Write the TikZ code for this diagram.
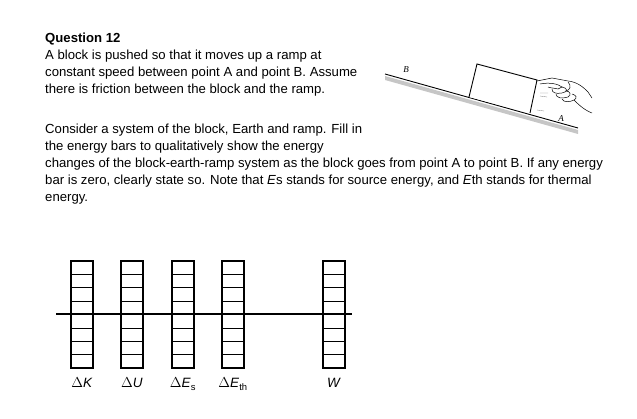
\documentclass[tikz,border=0pt]{standalone}
\usepackage{fontspec}
\setmainfont{Liberation Sans}
\newfontfamily\serifit{Liberation Serif}
\begin{document}
\begin{tikzpicture}[x=1pt,y=-1pt,
  txt/.style={anchor=base west,inner sep=0pt,font=\fontsize{13.15}{15}\selectfont},
  lab/.style={anchor=base,inner sep=0pt,font=\fontsize{13.5}{15}\selectfont},
  bar/.style={draw,line width=1.1pt}]
\useasboundingbox (0,0) rectangle (637,419);
\node[txt,font=\fontsize{13.15}{15}\selectfont\bfseries] (t0) at (45,43) {Question 12};
\node[txt] (t1) at (45,60) {A block is pushed so that it moves up a ramp at};
\node[txt] (t2) at (45,77) {constant speed between point A and point B. Assume};
\node[txt] (t3) at (45,94) {there is friction between the block and the ramp.};
\node[txt] (t4) at (45,134) {Consider a system of the block, Earth and ramp. Fill in};
\node[txt] (t5) at (45,151) {the energy bars to qualitatively show the energy};
\node[txt] (t6) at (45,168) {changes of the block-earth-ramp system as the block goes from point A to point B. If any energy};
\node[txt] (t7) at (45,185) {bar is zero, clearly state so. Note that \textit{E}s stands for source energy, and \textit{E}th stands for thermal};
\node[txt] (t8) at (45,202) {energy.};
% ramp
\fill[gray!45] (385,76) -- (578,130) -- (578,134) -- (385,80) -- cycle;
\draw[line width=0.9pt] (385,74) -- (578,128);
\draw[line width=0.9pt,fill=white] (469,97) -- (477,64) -- (537,80) -- (530,113);
\node[font=\serifit\itshape\fontsize{9}{10}\selectfont,inner sep=0pt] (B) at (406,70) {B};
\node[font=\serifit\itshape\fontsize{9}{10}\selectfont,inner sep=0pt] (A) at (561,119) {A};
% hand
\draw[line width=0.5pt] (537,81) -- (552,78) -- (568,81) .. controls (578,82) and (584,88) .. (588,92) -- (592,98);
\draw[line width=0.5pt] (592,113) .. controls (584,110) and (578,104) .. (574,100);
\draw[line width=0.5pt] (540,84) .. controls (550,82) and (558,84) .. (562,87) -- (558,89) .. controls (554,88) and (550,88) .. (548,87);
\draw[line width=0.5pt] (552,89) .. controls (552,93) and (556,94) .. (562,93) .. controls (568,92) and (568,88) .. (562,87);
\draw[line width=0.5pt] (556,94) .. controls (556,98) and (562,99) .. (568,97) .. controls (572,95) and (570,91) .. (566,91);
\draw[line width=0.5pt] (562,99) .. controls (564,103) and (570,102) .. (574,100) .. controls (578,98) and (576,95) .. (572,94);
\draw[line width=0.5pt] (568,82) .. controls (572,86) and (570,90) .. (566,91);
\draw[line width=0.3pt,gray] (540,93) -- (548,93) (540,96) -- (547,97) (537,110) -- (544,111);
% bars
\draw[line width=1.1pt] (56,314) -- (352,314);
\foreach \x in {71,121,172,222,323}{
  \draw[bar] (\x,261) rectangle (\x+22,368);
  \foreach \yy in {274.4,287.75,301.1,314.5,327.9,341.25,354.6}
    \draw[line width=0.6pt] (\x,\yy) -- (\x+22,\yy);
}
\node[lab] (lk) at (82,388) {$\Delta$\textit{K}};
\node[lab] (lu) at (132,388) {$\Delta$\textit{U}};
\node[lab] (ls) at (183,388) {$\Delta$\textit{E}\textsubscript{s}};
\node[lab] (lt) at (233,388) {$\Delta$\textit{E}\textsubscript{th}};
\node[lab] (lw) at (334,388) {\textit{W}};
\end{tikzpicture}
\end{document}
